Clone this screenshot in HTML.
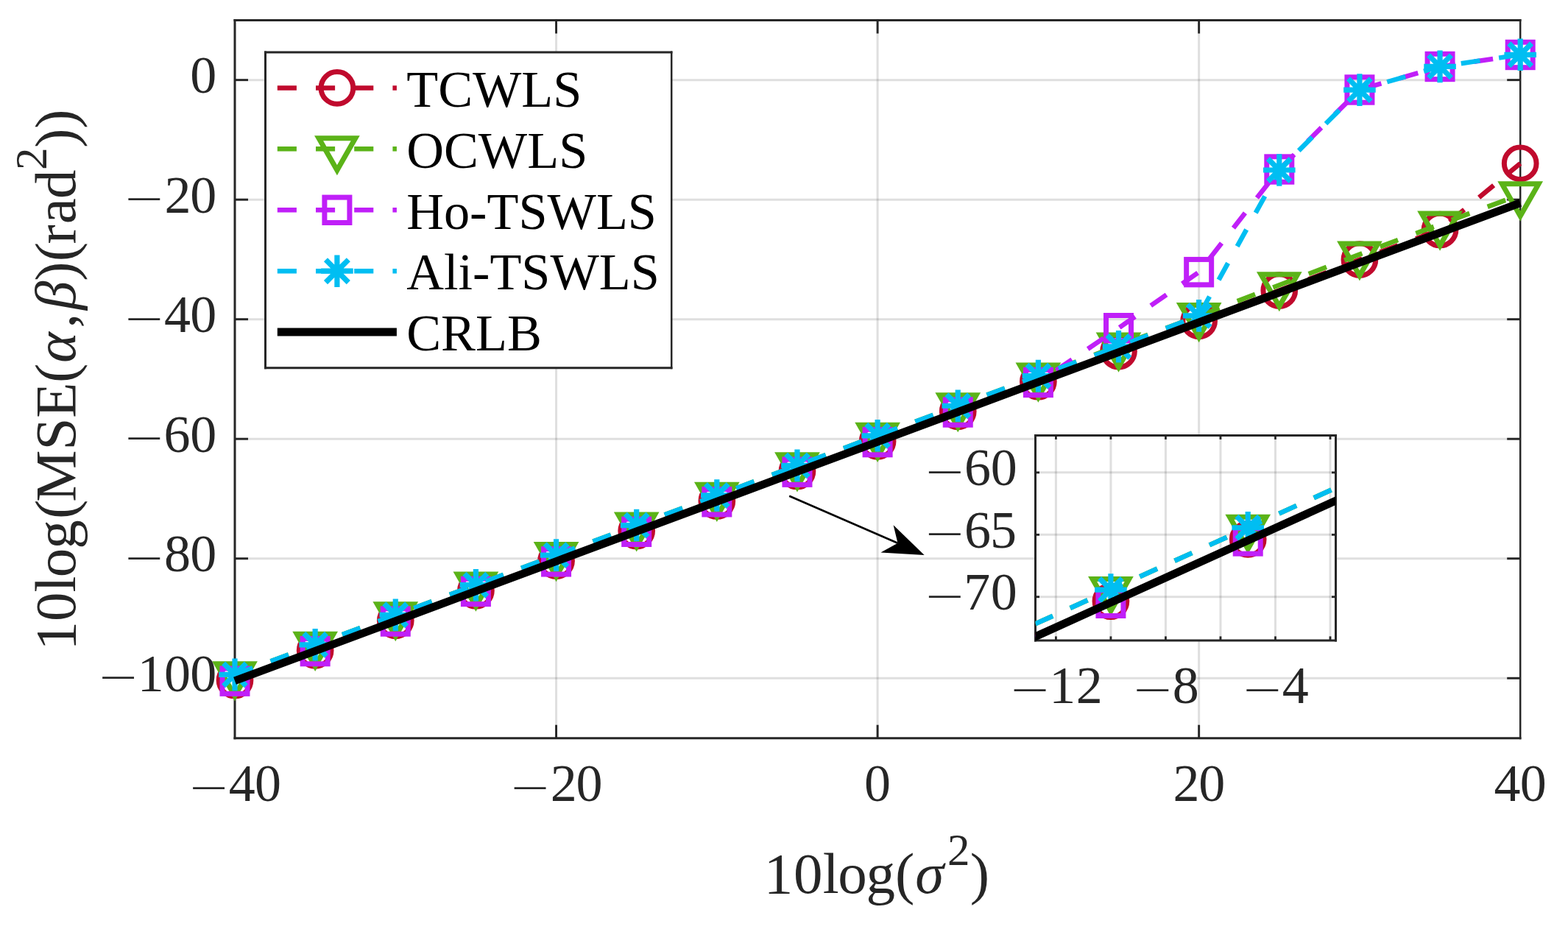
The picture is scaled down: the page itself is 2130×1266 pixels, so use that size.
<!DOCTYPE html>
<html lang="en"><head><meta charset="utf-8"><title>MSE versus noise power</title>
<style>
html,body{margin:0;padding:0;background:#fff;}
body{width:2130px;height:1266px;}
svg{display:block;width:2130px;height:1266px;}
text{font-family:"Liberation Serif","DejaVu Serif",serif;fill:#262626;}
.lg{fill:#000;}
.it{font-style:italic;}
</style></head><body>
<svg width="2130" height="1266" viewBox="0 0 2130 1266">
<rect width="2130" height="1266" fill="#fff"/>
<g id="grid" stroke="#262626" stroke-opacity="0.15" stroke-width="3" fill="none">
<line x1="755.55" y1="27.5" x2="755.55" y2="1002.7"/>
<line x1="1192.1" y1="27.5" x2="1192.1" y2="1002.7"/>
<line x1="1628.65" y1="27.5" x2="1628.65" y2="1002.7"/>
<line x1="319" y1="108.65" x2="2065.2" y2="108.65"/>
<line x1="319" y1="271.17" x2="2065.2" y2="271.17"/>
<line x1="319" y1="433.69" x2="2065.2" y2="433.69"/>
<line x1="319" y1="596.21" x2="2065.2" y2="596.21"/>
<line x1="319" y1="758.73" x2="2065.2" y2="758.73"/>
<line x1="319" y1="921.25" x2="2065.2" y2="921.25"/>
</g>
<g id="axes">
<g stroke="#262626" fill="none"><line x1="319" y1="26" x2="319" y2="1004.3" stroke-width="3"/><line x1="317.5" y1="27.5" x2="2066.45" y2="27.5" stroke-width="3"/><line x1="317.5" y1="1002.8" x2="2066.45" y2="1002.8" stroke-width="3"/><line x1="2065.2" y1="26" x2="2065.2" y2="1004.3" stroke-width="2.5"/></g>
<g stroke="#262626" stroke-width="2.9" fill="none">
<line x1="755.55" y1="1002.7" x2="755.55" y2="984.7"/>
<line x1="755.55" y1="27.5" x2="755.55" y2="45.5"/>
<line x1="1192.1" y1="1002.7" x2="1192.1" y2="984.7"/>
<line x1="1192.1" y1="27.5" x2="1192.1" y2="45.5"/>
<line x1="1628.65" y1="1002.7" x2="1628.65" y2="984.7"/>
<line x1="1628.65" y1="27.5" x2="1628.65" y2="45.5"/>
<line x1="319" y1="108.65" x2="337" y2="108.65"/>
<line x1="2065.2" y1="108.65" x2="2047.2" y2="108.65"/>
<line x1="319" y1="271.17" x2="337" y2="271.17"/>
<line x1="2065.2" y1="271.17" x2="2047.2" y2="271.17"/>
<line x1="319" y1="433.69" x2="337" y2="433.69"/>
<line x1="2065.2" y1="433.69" x2="2047.2" y2="433.69"/>
<line x1="319" y1="596.21" x2="337" y2="596.21"/>
<line x1="2065.2" y1="596.21" x2="2047.2" y2="596.21"/>
<line x1="319" y1="758.73" x2="337" y2="758.73"/>
<line x1="2065.2" y1="758.73" x2="2047.2" y2="758.73"/>
<line x1="319" y1="921.25" x2="337" y2="921.25"/>
<line x1="2065.2" y1="921.25" x2="2047.2" y2="921.25"/>
</g></g>
<g id="main-data">
<path d="M319 923.95L428.14 883.38L537.27 842.81L646.41 802.24L755.55 761.66L864.69 721.09L973.82 680.52L1082.96 639.95L1192.1 599.37L1301.24 558.8L1410.38 518.23L1519.51 477.07L1628.65 435.87L1737.79 394.58L1846.92 352.65L1956.06 312.01L2065.2 221.89" fill="none" stroke="#c00a2d" stroke-width="6.5" stroke-linejoin="round" stroke-dasharray="25.95 25.95"/>
<circle cx="319" cy="923.95" r="21.85" fill="none" stroke="#c00a2d" stroke-width="7.0"/>
<circle cx="428.14" cy="883.38" r="21.85" fill="none" stroke="#c00a2d" stroke-width="7.0"/>
<circle cx="537.27" cy="842.81" r="21.85" fill="none" stroke="#c00a2d" stroke-width="7.0"/>
<circle cx="646.41" cy="802.24" r="21.85" fill="none" stroke="#c00a2d" stroke-width="7.0"/>
<circle cx="755.55" cy="761.66" r="21.85" fill="none" stroke="#c00a2d" stroke-width="7.0"/>
<circle cx="864.69" cy="721.09" r="21.85" fill="none" stroke="#c00a2d" stroke-width="7.0"/>
<circle cx="973.82" cy="680.52" r="21.85" fill="none" stroke="#c00a2d" stroke-width="7.0"/>
<circle cx="1082.96" cy="639.95" r="21.85" fill="none" stroke="#c00a2d" stroke-width="7.0"/>
<circle cx="1192.1" cy="599.37" r="21.85" fill="none" stroke="#c00a2d" stroke-width="7.0"/>
<circle cx="1301.24" cy="558.8" r="21.85" fill="none" stroke="#c00a2d" stroke-width="7.0"/>
<circle cx="1410.38" cy="518.23" r="21.85" fill="none" stroke="#c00a2d" stroke-width="7.0"/>
<circle cx="1519.51" cy="477.07" r="21.85" fill="none" stroke="#c00a2d" stroke-width="7.0"/>
<circle cx="1628.65" cy="435.87" r="21.85" fill="none" stroke="#c00a2d" stroke-width="7.0"/>
<circle cx="1737.79" cy="394.58" r="21.85" fill="none" stroke="#c00a2d" stroke-width="7.0"/>
<circle cx="1846.92" cy="352.65" r="21.85" fill="none" stroke="#c00a2d" stroke-width="7.0"/>
<circle cx="1956.06" cy="312.01" r="21.85" fill="none" stroke="#c00a2d" stroke-width="7.0"/>
<circle cx="2065.2" cy="221.89" r="21.85" fill="none" stroke="#c00a2d" stroke-width="7.0"/>
<path d="M319 916.39L428.14 875.82L537.27 835.25L646.41 794.68L755.55 754.11L864.69 713.53L973.82 672.96L1082.96 632.39L1192.1 591.82L1301.24 551.24L1410.38 510.67L1519.51 469.59L1628.65 429.12L1737.79 387.27L1846.92 345.5L1956.06 304.7L2065.2 264.47" fill="none" stroke="#5bb318" stroke-width="6.5" stroke-linejoin="round" stroke-dasharray="25.95 25.95"/>
<path d="M294.16 901.79H343.84L319 945.39Z" fill="none" stroke="#5bb318" stroke-width="7.0" stroke-linejoin="miter"/>
<path d="M403.3 861.22H452.98L428.14 904.82Z" fill="none" stroke="#5bb318" stroke-width="7.0" stroke-linejoin="miter"/>
<path d="M512.43 820.65H562.12L537.27 864.25Z" fill="none" stroke="#5bb318" stroke-width="7.0" stroke-linejoin="miter"/>
<path d="M621.57 780.08H671.25L646.41 823.68Z" fill="none" stroke="#5bb318" stroke-width="7.0" stroke-linejoin="miter"/>
<path d="M730.71 739.51H780.39L755.55 783.11Z" fill="none" stroke="#5bb318" stroke-width="7.0" stroke-linejoin="miter"/>
<path d="M839.85 698.93H889.53L864.69 742.53Z" fill="none" stroke="#5bb318" stroke-width="7.0" stroke-linejoin="miter"/>
<path d="M948.98 658.36H998.66L973.82 701.96Z" fill="none" stroke="#5bb318" stroke-width="7.0" stroke-linejoin="miter"/>
<path d="M1058.12 617.79H1107.8L1082.96 661.39Z" fill="none" stroke="#5bb318" stroke-width="7.0" stroke-linejoin="miter"/>
<path d="M1167.26 577.22H1216.94L1192.1 620.82Z" fill="none" stroke="#5bb318" stroke-width="7.0" stroke-linejoin="miter"/>
<path d="M1276.4 536.64H1326.08L1301.24 580.24Z" fill="none" stroke="#5bb318" stroke-width="7.0" stroke-linejoin="miter"/>
<path d="M1385.54 496.07H1435.21L1410.38 539.67Z" fill="none" stroke="#5bb318" stroke-width="7.0" stroke-linejoin="miter"/>
<path d="M1494.67 454.99H1544.35L1519.51 498.59Z" fill="none" stroke="#5bb318" stroke-width="7.0" stroke-linejoin="miter"/>
<path d="M1603.81 414.52H1653.49L1628.65 458.12Z" fill="none" stroke="#5bb318" stroke-width="7.0" stroke-linejoin="miter"/>
<path d="M1712.95 372.67H1762.63L1737.79 416.27Z" fill="none" stroke="#5bb318" stroke-width="7.0" stroke-linejoin="miter"/>
<path d="M1822.08 330.9H1871.76L1846.92 374.5Z" fill="none" stroke="#5bb318" stroke-width="7.0" stroke-linejoin="miter"/>
<path d="M1931.22 290.1H1980.9L1956.06 333.7Z" fill="none" stroke="#5bb318" stroke-width="7.0" stroke-linejoin="miter"/>
<path d="M2040.36 249.87H2090.04L2065.2 293.47Z" fill="none" stroke="#5bb318" stroke-width="7.0" stroke-linejoin="miter"/>
<path d="M319 925.17L428.14 884.6L537.27 844.03L646.41 803.45L755.55 762.88L864.69 722.31L973.82 681.74L1082.96 641.16L1192.1 600.59L1301.24 560.02L1410.38 519.45L1519.51 445.7L1628.65 369.63L1737.79 230.02L1846.92 122.01L1956.06 90.48L2065.2 74.47" fill="none" stroke="#c01ff8" stroke-width="6.5" stroke-linejoin="round" stroke-dasharray="25.95 25.95"/>
<rect x="302" y="907.97" width="34" height="34.4" fill="none" stroke="#c01ff8" stroke-width="7"/>
<rect x="411.14" y="867.4" width="34" height="34.4" fill="none" stroke="#c01ff8" stroke-width="7"/>
<rect x="520.27" y="826.83" width="34" height="34.4" fill="none" stroke="#c01ff8" stroke-width="7"/>
<rect x="629.41" y="786.25" width="34" height="34.4" fill="none" stroke="#c01ff8" stroke-width="7"/>
<rect x="738.55" y="745.68" width="34" height="34.4" fill="none" stroke="#c01ff8" stroke-width="7"/>
<rect x="847.69" y="705.11" width="34" height="34.4" fill="none" stroke="#c01ff8" stroke-width="7"/>
<rect x="956.82" y="664.54" width="34" height="34.4" fill="none" stroke="#c01ff8" stroke-width="7"/>
<rect x="1065.96" y="623.96" width="34" height="34.4" fill="none" stroke="#c01ff8" stroke-width="7"/>
<rect x="1175.1" y="583.39" width="34" height="34.4" fill="none" stroke="#c01ff8" stroke-width="7"/>
<rect x="1284.24" y="542.82" width="34" height="34.4" fill="none" stroke="#c01ff8" stroke-width="7"/>
<rect x="1393.38" y="502.25" width="34" height="34.4" fill="none" stroke="#c01ff8" stroke-width="7"/>
<rect x="1502.51" y="428.5" width="34" height="34.4" fill="none" stroke="#c01ff8" stroke-width="7"/>
<rect x="1611.65" y="352.43" width="34" height="34.4" fill="none" stroke="#c01ff8" stroke-width="7"/>
<rect x="1720.79" y="212.82" width="34" height="34.4" fill="none" stroke="#c01ff8" stroke-width="7"/>
<rect x="1829.92" y="104.81" width="34" height="34.4" fill="none" stroke="#c01ff8" stroke-width="7"/>
<rect x="1939.06" y="73.28" width="34" height="34.4" fill="none" stroke="#c01ff8" stroke-width="7"/>
<rect x="2048.2" y="57.27" width="34" height="34.4" fill="none" stroke="#c01ff8" stroke-width="7"/>
<path d="M319 916.39L428.14 875.82L537.27 835.25L646.41 794.68L755.55 754.11L864.69 713.53L973.82 672.96L1082.96 632.39L1192.1 591.82L1301.24 551.24L1410.38 510.67L1519.51 470.81L1628.65 428.88L1737.79 230.99L1846.92 122.09L1956.06 90.4L2065.2 74.31" fill="none" stroke="#00bef2" stroke-width="6.5" stroke-linejoin="round" stroke-dasharray="25.95 25.95"/>
<path d="M297.2 916.39H340.8M319 894.59V938.19M303.59 900.98L334.41 931.81M303.59 931.81L334.41 900.98" fill="none" stroke="#00bef2" stroke-width="7.2"/>
<path d="M406.34 875.82H449.94M428.14 854.02V897.62M412.72 860.41L443.55 891.24M412.72 891.24L443.55 860.41" fill="none" stroke="#00bef2" stroke-width="7.2"/>
<path d="M515.48 835.25H559.07M537.27 813.45V857.05M521.86 819.84L552.69 850.66M521.86 850.66L552.69 819.84" fill="none" stroke="#00bef2" stroke-width="7.2"/>
<path d="M624.61 794.68H668.21M646.41 772.88V816.48M631 779.26L661.83 810.09M631 810.09L661.83 779.26" fill="none" stroke="#00bef2" stroke-width="7.2"/>
<path d="M733.75 754.11H777.35M755.55 732.31V775.91M740.14 738.69L770.96 769.52M740.14 769.52L770.96 738.69" fill="none" stroke="#00bef2" stroke-width="7.2"/>
<path d="M842.89 713.53H886.49M864.69 691.73V735.33M849.27 698.12L880.1 728.95M849.27 728.95L880.1 698.12" fill="none" stroke="#00bef2" stroke-width="7.2"/>
<path d="M952.02 672.96H995.62M973.82 651.16V694.76M958.41 657.55L989.24 688.38M958.41 688.38L989.24 657.55" fill="none" stroke="#00bef2" stroke-width="7.2"/>
<path d="M1061.16 632.39H1104.76M1082.96 610.59V654.19M1067.55 616.97L1098.38 647.8M1067.55 647.8L1098.38 616.97" fill="none" stroke="#00bef2" stroke-width="7.2"/>
<path d="M1170.3 591.82H1213.9M1192.1 570.02V613.62M1176.69 576.4L1207.51 607.23M1176.69 607.23L1207.51 576.4" fill="none" stroke="#00bef2" stroke-width="7.2"/>
<path d="M1279.44 551.24H1323.04M1301.24 529.44V573.04M1285.82 535.83L1316.65 566.66M1285.82 566.66L1316.65 535.83" fill="none" stroke="#00bef2" stroke-width="7.2"/>
<path d="M1388.58 510.67H1432.17M1410.38 488.87V532.47M1394.96 495.26L1425.79 526.09M1394.96 526.09L1425.79 495.26" fill="none" stroke="#00bef2" stroke-width="7.2"/>
<path d="M1497.71 470.81H1541.31M1519.51 449.01V492.61M1504.1 455.39L1534.93 486.22M1504.1 486.22L1534.93 455.39" fill="none" stroke="#00bef2" stroke-width="7.2"/>
<path d="M1606.85 428.88H1650.45M1628.65 407.08V450.68M1613.24 413.46L1644.06 444.29M1613.24 444.29L1644.06 413.46" fill="none" stroke="#00bef2" stroke-width="7.2"/>
<path d="M1715.99 230.99H1759.59M1737.79 209.19V252.79M1722.37 215.58L1753.2 246.41M1722.37 246.41L1753.2 215.58" fill="none" stroke="#00bef2" stroke-width="7.2"/>
<path d="M1825.12 122.09H1868.72M1846.92 100.29V143.89M1831.51 106.68L1862.34 137.51M1831.51 137.51L1862.34 106.68" fill="none" stroke="#00bef2" stroke-width="7.2"/>
<path d="M1934.26 90.4H1977.86M1956.06 68.6V112.2M1940.65 74.99L1971.48 105.82M1940.65 105.82L1971.48 74.99" fill="none" stroke="#00bef2" stroke-width="7.2"/>
<path d="M2043.4 74.31H2087M2065.2 52.51V96.11M2049.79 58.89L2080.61 89.72M2049.79 89.72L2080.61 58.89" fill="none" stroke="#00bef2" stroke-width="7.2"/>
<path d="M319 924.77L428.14 884.19L537.27 843.62L646.41 803.05L755.55 762.48L864.69 721.9L973.82 681.33L1082.96 640.76L1192.1 600.19L1301.24 559.61L1410.38 519.04L1519.51 478.47L1628.65 437.9L1737.79 397.32L1846.92 356.75L1956.06 316.18L2065.2 275.61" fill="none" stroke="#000" stroke-width="10.8" stroke-linejoin="round"/>
</g>
<g id="xticks">
<text y="1088.1" font-size="72"><tspan x="257.59" dy="1.76" font-size="58" textLength="51.99" lengthAdjust="spacingAndGlyphs">−</tspan><tspan x="310.66 346.05" dy="-1.76">40</tspan></text>
<text y="1088.1" font-size="72"><tspan x="694.14" dy="1.76" font-size="58" textLength="51.99" lengthAdjust="spacingAndGlyphs">−</tspan><tspan x="747.75 782.6" dy="-1.76">20</tspan></text>
<text y="1088.1" font-size="72"><tspan x="1174.1">0</tspan></text>
<text y="1088.1" font-size="72"><tspan x="1593.43 1628.27">20</tspan></text>
<text y="1088.1" font-size="72"><tspan x="2029.43 2064.82">40</tspan></text>
</g>
<g id="yticks">
<text y="126.05" font-size="72"><tspan x="258.27">0</tspan></text>
<text y="288.57" font-size="72"><tspan x="169.81" dy="1.76" font-size="58" textLength="51.99" lengthAdjust="spacingAndGlyphs">−</tspan><tspan x="223.43 258.27" dy="-1.76">20</tspan></text>
<text y="451.09" font-size="72"><tspan x="169.81" dy="1.76" font-size="58" textLength="51.99" lengthAdjust="spacingAndGlyphs">−</tspan><tspan x="222.88 258.27" dy="-1.76">40</tspan></text>
<text y="613.61" font-size="72"><tspan x="169.81" dy="1.76" font-size="58" textLength="51.99" lengthAdjust="spacingAndGlyphs">−</tspan><tspan x="222.55 258.27" dy="-1.76">60</tspan></text>
<text y="776.13" font-size="72"><tspan x="169.81" dy="1.76" font-size="58" textLength="51.99" lengthAdjust="spacingAndGlyphs">−</tspan><tspan x="223.02 258.27" dy="-1.76">80</tspan></text>
<text y="938.65" font-size="72"><tspan x="134.56" dy="1.76" font-size="58" textLength="51.99" lengthAdjust="spacingAndGlyphs">−</tspan><tspan x="186.77 223.02 258.27" dy="-1.76">100</tspan></text>
</g>
<g id="xlabel">
<text y="1213.3" font-size="79"><tspan x="1037.65 1077.9 1117.68 1138.15 1176.45 1215.98">10log(</tspan><tspan x="1243.34" class="it">σ</tspan><tspan x="1286.99" dy="-38.6" font-size="61">2</tspan><tspan x="1317.81" dy="38.6">)</tspan></text>
</g>
<g id="ylabel">
<text transform="translate(101.5 872.4) rotate(-90)" y="0" font-size="79"><tspan x="-11.15 28.35 67.98 88.25 126.6 167.43 190.75 260.84 304.7 352.53">10log(MSE(</tspan><tspan x="379.58" class="it">α</tspan><tspan x="426.91">,</tspan><tspan x="451.32" class="it">β</tspan><tspan x="490.71 517.08 540.8 568.27 602.3">)(rad</tspan><tspan x="641.29" dy="-38.6" font-size="61">2</tspan><tspan x="671.61 697.76" dy="38.6">))</tspan></text>
</g>
<g id="legend">
<rect x="360.5" y="71.0" width="551.7" height="428.7" fill="#fff"/>
<g stroke="#262626" fill="none"><line x1="360.5" y1="69.5" x2="360.5" y2="501.2" stroke-width="3"/><line x1="359" y1="71" x2="913.45" y2="71" stroke-width="3"/><line x1="359" y1="499.7" x2="913.45" y2="499.7" stroke-width="3"/><line x1="912.2" y1="69.5" x2="912.2" y2="501.2" stroke-width="2.5"/></g>
<line x1="376.8" y1="119.4" x2="538.9" y2="119.4" stroke="#c00a2d" stroke-width="6.5" stroke-dasharray="26.1 26.1"/>
<circle cx="457.9" cy="119.4" r="21.85" fill="none" stroke="#c00a2d" stroke-width="7.0"/>
<text x="552.2" y="144.6" font-size="70.3" class="lg">TCWLS</text>
<line x1="376.8" y1="202.3" x2="538.9" y2="202.3" stroke="#5bb318" stroke-width="6.5" stroke-dasharray="26.1 26.1"/>
<path d="M433.06 187.7H482.74L457.9 231.3Z" fill="none" stroke="#5bb318" stroke-width="7.0" stroke-linejoin="miter"/>
<text x="552.2" y="227.5" font-size="70.3" class="lg">OCWLS</text>
<line x1="376.8" y1="285.3" x2="538.9" y2="285.3" stroke="#c01ff8" stroke-width="6.5" stroke-dasharray="26.1 26.1"/>
<rect x="440.9" y="268.1" width="34" height="34.4" fill="none" stroke="#c01ff8" stroke-width="7"/>
<text x="552.2" y="310.5" font-size="70.3" class="lg">Ho-TSWLS</text>
<line x1="376.8" y1="368.2" x2="538.9" y2="368.2" stroke="#00bef2" stroke-width="6.5" stroke-dasharray="26.1 26.1"/>
<path d="M436.1 368.2H479.7M457.9 346.4V390M442.49 352.79L473.31 383.61M442.49 383.61L473.31 352.79" fill="none" stroke="#00bef2" stroke-width="7.2"/>
<text x="552.2" y="393.4" font-size="70.3" class="lg">Ali-TSWLS</text>
<line x1="376.8" y1="451.0" x2="538.9" y2="451.0" stroke="#000" stroke-width="11"/>
<text x="552.2" y="476.2" font-size="70.3" class="lg">CRLB</text>
</g>
<g id="inset">
<rect x="1406.5" y="591.4" width="408" height="278.5" fill="#fff"/>
<g stroke="#262626" stroke-opacity="0.15" stroke-width="3" fill="none">
<line x1="1434.4" y1="591.4" x2="1434.4" y2="869.9"/>
<line x1="1508.92" y1="591.4" x2="1508.92" y2="869.9"/>
<line x1="1583.44" y1="591.4" x2="1583.44" y2="869.9"/>
<line x1="1657.96" y1="591.4" x2="1657.96" y2="869.9"/>
<line x1="1732.48" y1="591.4" x2="1732.48" y2="869.9"/>
<line x1="1807" y1="591.4" x2="1807" y2="869.9"/>
<line x1="1406.5" y1="641.87" x2="1814.5" y2="641.87"/>
<line x1="1406.5" y1="726.32" x2="1814.5" y2="726.32"/>
<line x1="1406.5" y1="810.76" x2="1814.5" y2="810.76"/>
</g>
<g stroke="#262626" fill="none"><line x1="1406.5" y1="589.9" x2="1406.5" y2="871.4" stroke-width="3"/><line x1="1405" y1="591.4" x2="1816" y2="591.4" stroke-width="3"/><line x1="1405" y1="869.9" x2="1816" y2="869.9" stroke-width="3"/><line x1="1814.5" y1="589.9" x2="1814.5" y2="871.4" stroke-width="3"/></g>
<g stroke="#262626" stroke-width="2.8" fill="none">
<line x1="1434.4" y1="869.9" x2="1434.4" y2="864.4"/>
<line x1="1434.4" y1="591.4" x2="1434.4" y2="596.9"/>
<line x1="1508.92" y1="869.9" x2="1508.92" y2="864.4"/>
<line x1="1508.92" y1="591.4" x2="1508.92" y2="596.9"/>
<line x1="1583.44" y1="869.9" x2="1583.44" y2="864.4"/>
<line x1="1583.44" y1="591.4" x2="1583.44" y2="596.9"/>
<line x1="1657.96" y1="869.9" x2="1657.96" y2="864.4"/>
<line x1="1657.96" y1="591.4" x2="1657.96" y2="596.9"/>
<line x1="1732.48" y1="869.9" x2="1732.48" y2="864.4"/>
<line x1="1732.48" y1="591.4" x2="1732.48" y2="596.9"/>
<line x1="1807" y1="869.9" x2="1807" y2="864.4"/>
<line x1="1807" y1="591.4" x2="1807" y2="596.9"/>
<line x1="1406.5" y1="641.87" x2="1412" y2="641.87"/>
<line x1="1814.5" y1="641.87" x2="1809" y2="641.87"/>
<line x1="1406.5" y1="726.32" x2="1412" y2="726.32"/>
<line x1="1814.5" y1="726.32" x2="1809" y2="726.32"/>
<line x1="1406.5" y1="810.76" x2="1412" y2="810.76"/>
<line x1="1814.5" y1="810.76" x2="1809" y2="810.76"/>
</g>
<clipPath id="insclip"><rect x="1406.5" y="591.4" width="408" height="278.5"/></clipPath>
<g id="inset-data" clip-path="url(#insclip)">
<path d="M1322.62 901.07L1508.92 816.76L1695.22 732.44L1881.52 648.12" fill="none" stroke="#c00a2d" stroke-width="6.5" stroke-linejoin="round" stroke-dasharray="25.95 25.95" stroke-dashoffset="11.7"/>
<circle cx="1508.92" cy="816.76" r="21.85" fill="none" stroke="#c00a2d" stroke-width="7.0"/>
<circle cx="1695.22" cy="732.44" r="21.85" fill="none" stroke="#c00a2d" stroke-width="7.0"/>
<path d="M1322.62 885.37L1508.92 801.05L1695.22 716.73L1881.52 632.41" fill="none" stroke="#5bb318" stroke-width="6.5" stroke-linejoin="round" stroke-dasharray="25.95 25.95" stroke-dashoffset="11.7"/>
<path d="M1484.08 786.45H1533.76L1508.92 830.05Z" fill="none" stroke="#5bb318" stroke-width="7.0" stroke-linejoin="miter"/>
<path d="M1670.38 702.13H1720.06L1695.22 745.73Z" fill="none" stroke="#5bb318" stroke-width="7.0" stroke-linejoin="miter"/>
<path d="M1322.62 903.61L1508.92 819.29L1695.22 734.97L1881.52 650.65" fill="none" stroke="#c01ff8" stroke-width="6.5" stroke-linejoin="round" stroke-dasharray="25.95 25.95" stroke-dashoffset="11.7"/>
<rect x="1491.92" y="802.09" width="34" height="34.4" fill="none" stroke="#c01ff8" stroke-width="7"/>
<rect x="1678.22" y="717.77" width="34" height="34.4" fill="none" stroke="#c01ff8" stroke-width="7"/>
<path d="M1322.62 885.37L1508.92 801.05L1695.22 716.73L1881.52 632.41" fill="none" stroke="#00bef2" stroke-width="6.5" stroke-linejoin="round" stroke-dasharray="25.95 25.95" stroke-dashoffset="11.7"/>
<path d="M1487.12 801.05H1530.72M1508.92 779.25V822.85M1493.51 785.63L1524.33 816.46M1493.51 816.46L1524.33 785.63" fill="none" stroke="#00bef2" stroke-width="7.2"/>
<path d="M1673.42 716.73H1717.02M1695.22 694.93V738.53M1679.81 701.32L1710.63 732.15M1679.81 732.15L1710.63 701.32" fill="none" stroke="#00bef2" stroke-width="7.2"/>
<path d="M1322.62 902.76L1508.92 818.44L1695.22 734.13L1881.52 649.81" fill="none" stroke="#000" stroke-width="10.8" stroke-linejoin="round"/>
</g>
<text y="955.3" font-size="72"><tspan x="1372.99" dy="1.76" font-size="58" textLength="51.99" lengthAdjust="spacingAndGlyphs">−</tspan><tspan x="1425.2 1461.85" dy="-1.76">12</tspan></text>
<text y="955.3" font-size="72"><tspan x="1539.65" dy="1.76" font-size="58" textLength="51.99" lengthAdjust="spacingAndGlyphs">−</tspan><tspan x="1592.86" dy="-1.76">8</tspan></text>
<text y="955.3" font-size="72"><tspan x="1688.69" dy="1.76" font-size="58" textLength="51.99" lengthAdjust="spacingAndGlyphs">−</tspan><tspan x="1741.76" dy="-1.76">4</tspan></text>
<text y="659.07" font-size="72"><tspan x="1257.31" dy="1.76" font-size="58" textLength="51.99" lengthAdjust="spacingAndGlyphs">−</tspan><tspan x="1310.05 1345.78" dy="-1.76">60</tspan></text>
<text y="743.52" font-size="72"><tspan x="1257.31" dy="1.76" font-size="58" textLength="51.99" lengthAdjust="spacingAndGlyphs">−</tspan><tspan x="1310.05 1345.09" dy="-1.76">65</tspan></text>
<text y="827.96" font-size="72"><tspan x="1257.31" dy="1.76" font-size="58" textLength="51.99" lengthAdjust="spacingAndGlyphs">−</tspan><tspan x="1309.19 1345.78" dy="-1.76">70</tspan></text>
</g>
<g id="arrow">
<line x1="1072.2" y1="673.8" x2="1219.5" y2="737.7" stroke="#000" stroke-width="2.7"/>
<polygon points="1255.6,754 1213.6,713.2 1219.5,737.7 1196.4,750.4" fill="#000"/>
</g>
</svg>
</body></html>
